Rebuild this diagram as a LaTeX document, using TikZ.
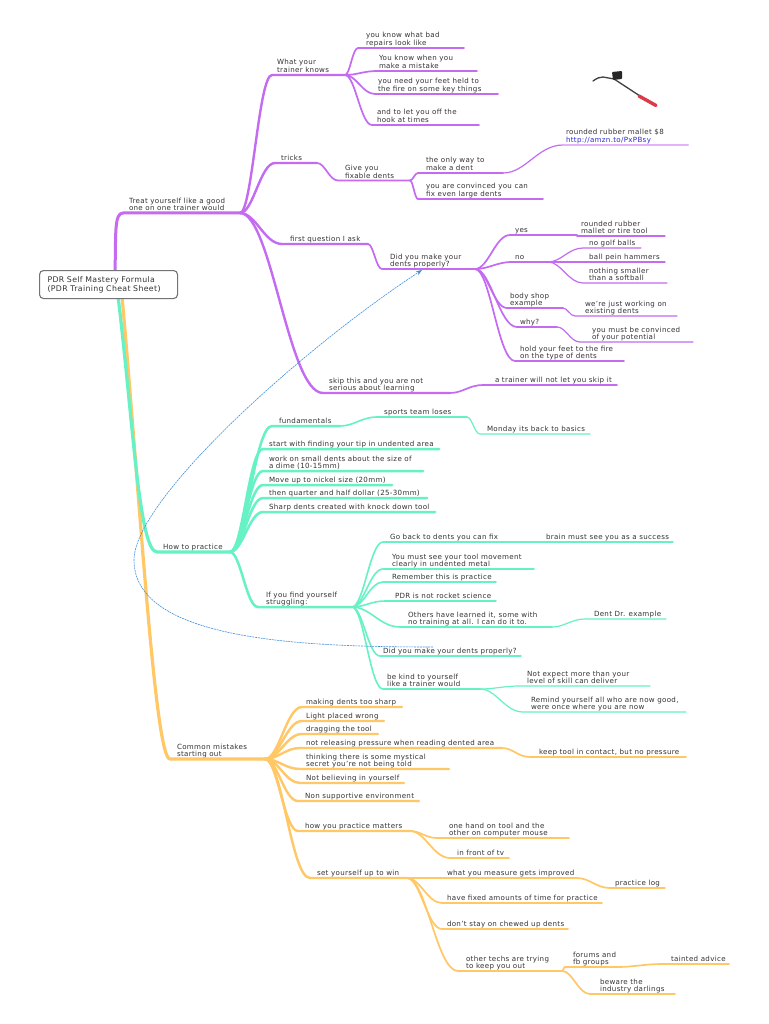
\documentclass[tikz,border=0pt]{standalone}
\usepackage{fontspec}
\setmainfont[LetterSpace=4.5]{DejaVu Sans}
\usetikzlibrary{calc,arrows.meta}
\definecolor{pur}{HTML}{C46BF2}
\definecolor{purl}{HTML}{E2B4F7}
\definecolor{tea}{HTML}{66F2C4}
\definecolor{ora}{HTML}{FFC766}
\definecolor{txt}{HTML}{333333}
\definecolor{arc}{HTML}{3F8FDD}
\definecolor{lnk}{HTML}{2A2AD0}
\definecolor{grip}{HTML}{DC3A48}
\tikzset{
  lbl/.style={inner sep=0pt,outer sep=0pt,align=left,anchor=base west,text=txt,
    font=\fontsize{7.1}{7.7}\selectfont},
  rootbox/.style={draw=black!55,line width=1.1pt,rounded corners=4pt,fill=white,inner sep=0pt,
    minimum width=138pt,minimum height=28pt,text width=122pt,align=left,text=txt,
    font=\fontsize{7.8}{9}\selectfont},
  br/.style={line cap=round,line join=round},
  pa/.style={br,draw=pur,line width=3pt},
  pb/.style={br,draw=pur,line width=2.4pt},
  pc/.style={br,draw=pur,line width=1.7pt},
  pe/.style={br,draw=pur,line width=1.2pt},
  pd/.style={br,draw=purl,line width=1.5pt},
  ta/.style={br,draw=tea,line width=3.2pt},
  tb/.style={br,draw=tea,line width=2.5pt},
  tc/.style={br,draw=tea,line width=1.6pt},
  td/.style={br,draw=tea,line width=1.2pt},
  oa/.style={br,draw=ora,line width=3.2pt},
  ob/.style={br,draw=ora,line width=2.4pt},
  oc/.style={br,draw=ora,line width=1.7pt},
  xref/.style={draw=arc,line width=.6pt,dash pattern=on 2pt off .8pt,-{Stealth[length=6pt,width=4.5pt]}},
}
% #1 name, #2 text x, #3 line y, #4 line start x, #5 line end x, #6 text
\newcommand\tp[6]{%
  \coordinate (#1) at (#4,#3);
  \coordinate (#1e) at (#5,#3);
  \node[lbl] (#1t) at (#2,#3-2.3) {#6};}
% #1 style, #2 parent, #3 child: curve, then the underline of the child
\newcommand\lk[3]{%
  \draw[#1] let \p1=(#2),\p2=(#3),\n1={.62*\x1+.38*\x2},\n2={.42*\x1+.58*\x2} in
    (\p1) .. controls (\n1,\y1) and (\n2,\y2) .. (\p2) -- (#3e);}
\begin{document}
\begin{tikzpicture}[x=1pt,y=-1pt]
\useasboundingbox (0,0) rectangle (768,1024);
\fill[white] (0,0) rectangle (768,1024);

\coordinate (rs1) at (115,272);
\coordinate (rs2) at (118,296);
\coordinate (rs3) at (122,296);

% purple
\tp{treat}{129}{213}{123}{240}{Treat yourself like a good\\one on one trainer would}
\tp{knows}{277}{75}{272}{345}{What your\\trainer knows}
\tp{tricks}{281}{163}{275}{317}{tricks}
\tp{give}{345}{180.5}{338}{410}{Give you\\fixable dents}
\tp{first}{290}{244}{282}{368}{first question I ask}
\tp{did}{390}{269}{382}{475}{Did you make your\\dents properly?}
\tp{skip}{329}{393}{323}{450}{skip this and you are not\\serious about learning}
\tp{let}{495}{385}{483}{617}{a trainer will not let you skip it}
\tp{bad}{366}{48}{358}{464}{you know what bad\\repairs look like}
\tp{mist}{379}{71}{377}{477}{You know when you\\make a mistake}
\tp{feet}{378}{94}{375}{498}{you need your feet held to\\the fire on some key things}
\tp{hook}{377}{125}{372}{479}{and to let you off the\\hook at times}
\tp{only}{426}{173}{418}{503}{the only way to\\make a dent}
\tp{conv}{426}{199}{418}{543}{you are convinced you can\\fix even large dents}
\tp{mall}{566}{145}{563}{688}{rounded rubber mallet \$8\\{\color{lnk}\underline{http://amzn.to/PxPBsy}}}
\tp{yes}{515}{235}{510}{577}{yes}
\tp{tire}{581}{236}{577}{665}{rounded rubber\\mallet or tire tool}
\tp{no}{515}{262}{512}{548}{no}
\tp{golf}{589}{248}{583}{641}{no golf balls}
\tp{pein}{589}{262}{583}{665}{ball pein hammers}
\tp{soft}{589}{283}{583}{667}{nothing smaller\\than a softball}
\tp{body}{510}{308}{507}{563}{body shop\\example}
\tp{work}{585}{316}{575}{677}{we're just working on\\existing dents}
\tp{why}{520}{327}{517}{557}{why?}
\tp{pot}{592}{342}{580}{693}{you must be convinced\\of your potential}
\tp{hold}{520}{361}{515}{624}{hold your feet to the fire\\on the type of dents}

% teal
\tp{how}{163}{552}{157}{230}{How to practice}
\tp{fund}{279}{426}{272}{340}{fundamentals}
\tp{sport}{384}{417}{377}{467}{sports team loses}
\tp{mon}{487}{434}{480}{590}{Monday its back to basics}
\tp{tip}{269}{449}{263}{439}{start with finding your tip in undented area}
\tp{small}{269}{471}{263}{423}{work on small dents about the size of\\a dime (10-15mm)}
\tp{nick}{269}{485}{263}{392}{Move up to nickel size (20mm)}
\tp{quar}{269}{498}{263}{427}{then quarter and half dollar (25-30mm)}
\tp{sharp}{269}{512}{263}{435}{Sharp dents created with knock down tool}
\tp{strug}{266}{607}{258}{352}{If you find yourself\\struggling:}
\tp{back}{390}{542}{383}{503}{Go back to dents you can fix}
\tp{brain}{546}{542}{503}{673}{brain must see you as a success}
\tp{move}{392}{569}{383}{534}{You must see your tool movement\\clearly in undented metal}
\tp{rem}{392}{582}{383}{496}{Remember this is practice}
\tp{rock}{395}{601}{385}{496}{PDR is not rocket science}
\tp{oth}{408}{627}{400}{552}{Others have learned it, some with\\no training at all. I can do it to.}
\tp{dr}{594}{619}{585}{666}{Dent Dr. example}
\tp{didb}{383}{656}{380}{521}{Did you make your dents properly?}
\tp{kind}{387}{689}{383}{480}{be kind to yourself\\like a trainer would}
\tp{exp}{527}{686}{520}{650}{Not expect more than your\\level of skill can deliver}
\tp{rmd}{531}{712}{523}{686}{Remind yourself all who are now good,\\were once where you are now}

% orange
\tp{comm}{177}{759}{170}{265}{Common mistakes\\starting out}
\tp{mak}{306}{707}{302}{402}{making dents too sharp}
\tp{light}{306}{721}{302}{384}{Light placed wrong}
\tp{drag}{306}{734}{302}{378}{dragging the tool}
\tp{rel}{306}{748}{300}{502}{not releasing pressure when reading dented area}
\tp{keep}{539}{757}{530}{686}{keep tool in contact, but no pressure}
\tp{myst}{306}{769}{300}{449}{thinking there is some mystical\\secret you're not being told}
\tp{bel}{306}{783}{300}{404}{Not believing in yourself}
\tp{env}{305}{801}{298}{419}{Non supportive environment}
\tp{prac}{305}{831}{298}{410}{how you practice matters}
\tp{hand}{449}{838}{437}{569}{one hand on tool and the\\other on computer mouse}
\tp{tv}{457}{858}{450}{509}{in front of tv}
\tp{win}{317}{878}{310}{407}{set yourself up to win}
\tp{meas}{447}{878}{407}{577}{what you measure gets improved}
\tp{logb}{615}{888}{610}{665}{practice log}
\tp{time}{447}{903}{442}{602}{have fixed amounts of time for practice}
\tp{chew}{447}{929}{442}{568}{don't stay on chewed up dents}
\tp{out}{466}{971}{458}{562}{other techs are trying\\to keep you out}
\tp{for}{573}{967}{565}{617}{forums and\\fb groups}
\tp{taint}{671}{964}{663}{729}{tainted advice}
\tp{dar}{600}{994}{590}{675}{beware the\\industry darlings}

% main trunks
\draw[oa] (rs3) .. controls (140,500) and (155,759) .. (comm) -- (comme);
\draw[ta] (rs2) .. controls (133,420) and (139,552) .. (how) -- (howe);
\draw[pa] (rs1) .. controls (116,235) and (114,213) .. (treat) -- (treate);

\lk{pb}{treate}{knows}
\lk{pb}{treate}{tricks}
\lk{pb}{treate}{first}
\lk{pb}{treate}{skip}
\lk{pc}{knowse}{bad}
\lk{pc}{knowse}{mist}
\lk{pc}{knowse}{feet}
\lk{pc}{knowse}{hook}
\lk{pc}{trickse}{give}
\lk{pc}{givee}{only}
\lk{pc}{givee}{conv}
\lk{pe}{onlye}{mall}
\draw[pd] (mall) -- (malle);
\lk{pc}{firste}{did}
\lk{pc}{skipe}{let}
\lk{pc}{dide}{yes}
\lk{pc}{dide}{no}
\lk{pc}{dide}{body}
\lk{pc}{dide}{why}
\lk{pc}{dide}{hold}
\lk{pe}{yese}{tire}
\lk{pe}{noe}{golf}
\lk{pe}{noe}{pein}
\lk{pe}{noe}{soft}
\lk{pe}{bodye}{work}
\lk{pe}{whye}{pot}

\lk{tb}{howe}{fund}
\lk{tb}{howe}{tip}
\lk{tb}{howe}{small}
\lk{tb}{howe}{nick}
\lk{tb}{howe}{quar}
\lk{tb}{howe}{sharp}
\lk{tb}{howe}{strug}
\lk{tc}{funde}{sport}
\lk{td}{sporte}{mon}
\lk{tc}{struge}{back}
\lk{td}{backe}{brain}
\lk{tc}{struge}{move}
\lk{tc}{struge}{rem}
\lk{tc}{struge}{rock}
\lk{tc}{struge}{oth}
\lk{td}{othe}{dr}
\lk{tc}{struge}{didb}
\lk{tc}{struge}{kind}
\lk{td}{kinde}{exp}
\lk{td}{kinde}{rmd}

\lk{ob}{comme}{mak}
\lk{ob}{comme}{light}
\lk{ob}{comme}{drag}
\lk{ob}{comme}{rel}
\lk{ob}{comme}{myst}
\lk{ob}{comme}{bel}
\lk{ob}{comme}{env}
\lk{ob}{comme}{prac}
\lk{ob}{comme}{win}
\lk{oc}{rele}{keep}
\lk{oc}{prace}{hand}
\lk{oc}{prace}{tv}
\lk{oc}{wine}{meas}
\lk{oc}{wine}{time}
\lk{oc}{wine}{chew}
\lk{oc}{wine}{out}
\lk{oc}{mease}{logb}
\lk{oc}{oute}{for}
\lk{oc}{oute}{dar}
\lk{oc}{fore}{taint}

% cross link
\coordinate (arcs) at (433,647);
\coordinate (arce) at (422,270);
\draw[xref] (arcs) .. controls (300,647) and (134,640) .. (134,560)
  .. controls (134,500) and (300,350) .. (arce);

% centre
\node[rootbox,anchor=north west] (root) at (39,270) {PDR Self Mastery Formula\\(PDR Training Cheat Sheet)};

% mallet picture
\draw[black!75,line width=1.3pt,line cap=round,line join=round] (593,81) .. controls (597,78) and (600,77) .. (603,77) -- (614,79) -- (640,96);
\fill[black!85,rounded corners=.8pt] (612,72) -- (622,71) -- (622,79) -- (613,80) -- cycle;
\draw[grip,line width=3.4pt,line cap=round] (639,96) -- (656,105.5);
\end{tikzpicture}
\end{document}
